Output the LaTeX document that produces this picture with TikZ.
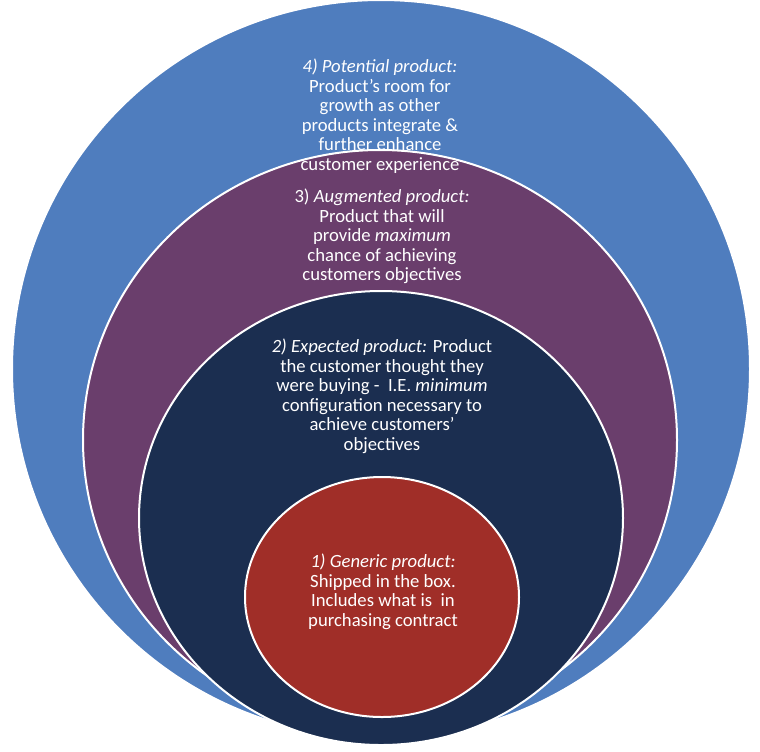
\documentclass[tikz,border=0pt]{standalone}
\usepackage{fontspec}
\setmainfont{Carlito}
\begin{document}
\begin{tikzpicture}[x=0.75pt,y=-0.75pt,
  ring/.style={draw=white,line width=1.5pt},
  lbl/.style={text=white,align=center,font=\fontsize{14pt}{14.6pt}\selectfont,inner sep=0pt,anchor=north}]
\useasboundingbox (0,0) rectangle (760,751);
\fill[white] (0,0) rectangle (760,751);
\path[ring,fill={rgb,255:red,79;green,125;blue,190}] (381,369) ellipse [x radius=369,y radius=369];
\path[ring,fill={rgb,255:red,106;green,62;blue,108}] (380,440) ellipse [x radius=297,y radius=290];
\path[ring,fill={rgb,255:red,27;green,46;blue,80}] (381,518) ellipse [x radius=242,y radius=227];
\path[ring,fill={rgb,255:red,160;green,46;blue,40}] (382,597) ellipse [x radius=137,y radius=120];
\node[lbl] (t4) at (380,59) {\textit{4) Potential product:}\\Product’s room for\\growth as other\\products integrate \&\\further enhance\\customer experience};
\node[lbl] (t3) at (382,189) {3) \textit{Augmented product:}\\Product that will\\provide \textit{maximum}\\chance of achieving\\customers objectives};
\node[lbl] (t2) at (382,339) {\textit{2) Expected product:} Product\\the customer thought they\\were buying -\ \ I.E. \textit{minimum}\\configuration necessary to\\achieve customers’\\objectives};
\node[lbl] (t1) at (383,554) {\textit{1) Generic product:}\\Shipped in the box.\\Includes what is\ \ in\\purchasing contract};
\end{tikzpicture}
\end{document}
